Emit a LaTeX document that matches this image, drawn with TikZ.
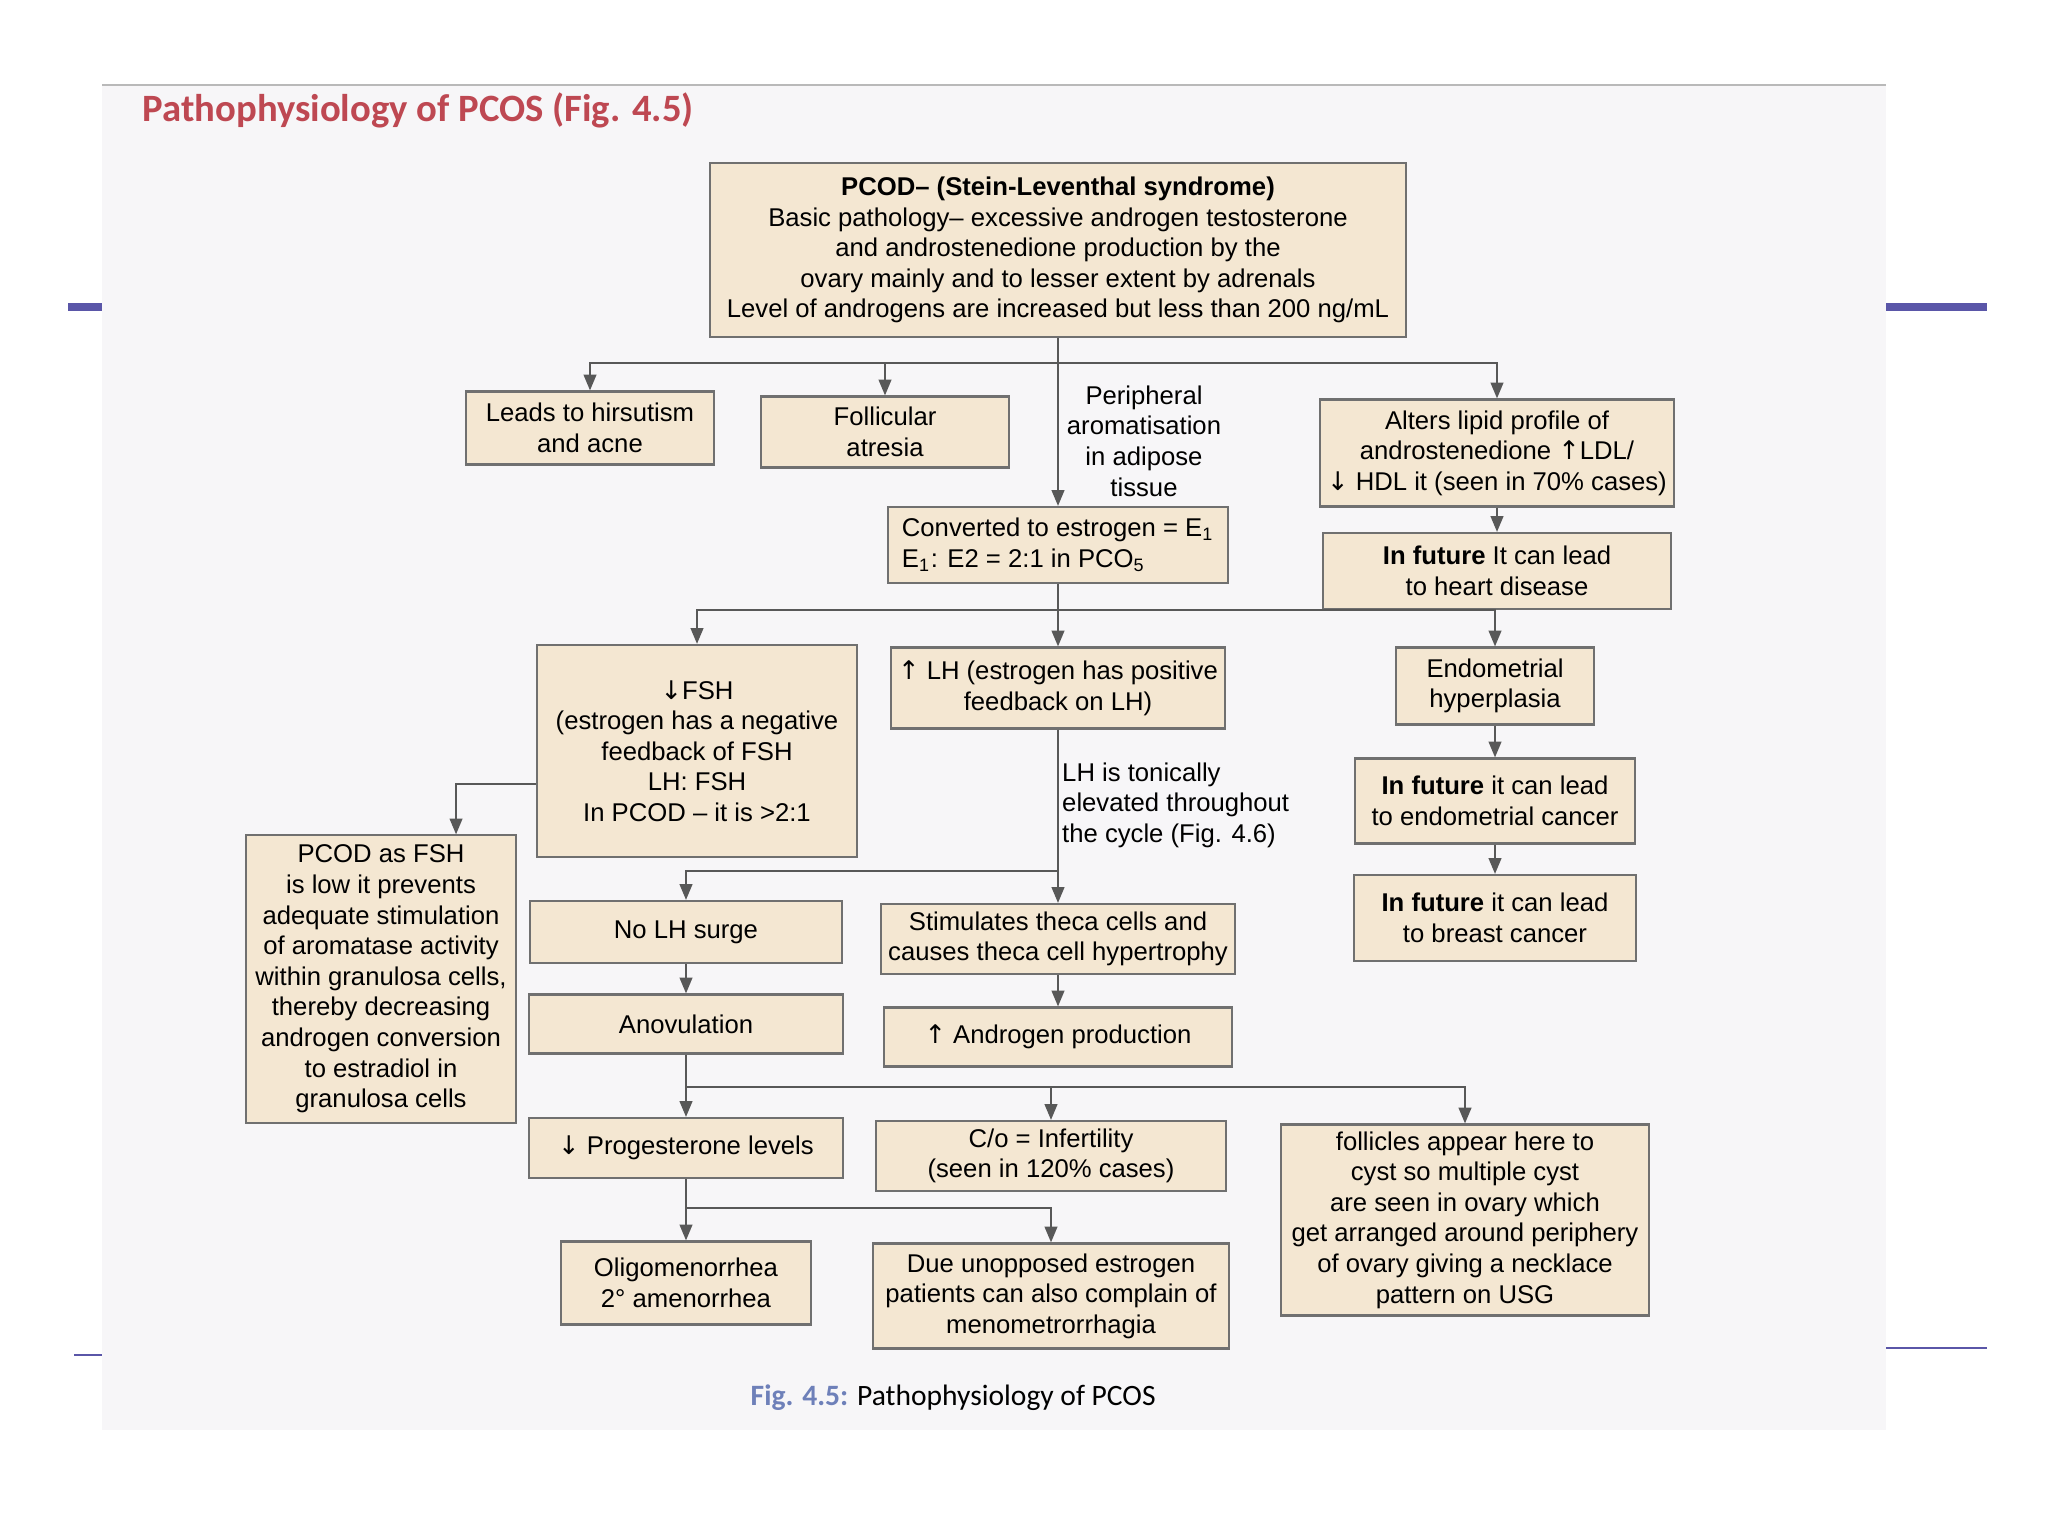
\documentclass[tikz,border=0pt]{standalone}
\usepackage{fontspec}
\setmainfont{Liberation Sans}
\newfontfamily\calfont{Carlito}
\newfontfamily\arrowfont{DejaVu Sans}
\newcommand{\uparr}{{\arrowfont ↑}}
\newcommand{\downarr}{{\arrowfont ↓}}
\usetikzlibrary{arrows.meta}
\definecolor{boxfill}{RGB}{244,231,210}
\definecolor{boxline}{RGB}{112,112,112}
\definecolor{linkgray}{RGB}{88,88,88}
\definecolor{paneltint}{RGB}{247,246,248}
\definecolor{titlered}{RGB}{190,72,82}
\definecolor{figblue}{RGB}{110,128,185}
\definecolor{slideblue}{RGB}{90,86,168}

\begin{document}
\begin{tikzpicture}[x=0.01cm, y=-0.01cm, font=\fontsize{7.3}{8.7}\selectfont,
  box/.style={draw=boxline, line width=0.6pt, fill=boxfill, align=center, inner sep=2pt},
  note/.style={align=center, inner sep=1pt},
  link/.style={draw=linkgray, line width=0.6pt, -{Triangle[length=4.5pt,width=3.6pt]}}]
\useasboundingbox (0,0) rectangle (2048,1536);

% slide background
\fill[paneltint] (102,85) rectangle (1886,1430);
\draw[gray!55, line width=0.6pt] (102,85) -- (1886,85);
\draw[slideblue, line width=2.3pt] (68,307) -- (102,307);
\draw[slideblue, line width=2.3pt] (1886,307) -- (1987,307);
\draw[slideblue, line width=0.7pt] (74,1355) -- (102,1355);
\draw[slideblue, line width=0.7pt] (1886,1348) -- (1987,1348);

\node[anchor=west, inner sep=0pt, text=titlered, font=\calfont\bfseries\fontsize{11}{13}\selectfont] (title) at (142,110) {Pathophysiology of PCOS (Fig. 4.5)};

% boxes
\node[box, minimum width=6.96cm, minimum height=1.74cm] (top) at (1058,250) {\textbf{PCOD– (Stein-Leventhal syndrome)}\\Basic pathology– excessive androgen testosterone\\and androstenedione production by the\\ovary mainly and to lesser extent by adrenals\\Level of androgens are increased but less than 200 ng/mL};
\node[box, minimum width=2.48cm, minimum height=0.73cm] (hirs) at (590,428) {Leads to hirsutism\\and acne};
\node[box, minimum width=2.47cm, minimum height=0.71cm] (foll) at (885,432) {Follicular\\atresia};
\node[note] (peri) at (1144,441) {Peripheral\\aromatisation\\in adipose\\tissue};
\node[box, minimum width=3.47cm, minimum height=1.07cm] (alters) at (1497,453) {Alters lipid profile of\\androstenedione \uparr LDL/\\\downarr\ HDL it (seen in 70\% cases)};
\node[box, minimum width=3.47cm, minimum height=0.76cm] (heart) at (1497,571) {\textbf{In future} It can lead\\to heart disease};
\node[box, minimum width=3.40cm, minimum height=0.76cm, align=left] (conv) at (1058,545) {Converted to estrogen = E\textsubscript{1}\\E\textsubscript{1}: E2 = 2:1 in PCO\textsubscript{5}};

\node[box, minimum width=3.20cm, minimum height=2.12cm] (fsh) at (697,751) {\downarr FSH\\(estrogen has a negative\\feedback of FSH\\LH: FSH\\In PCOD – it is >2:1};
\node[box, minimum width=3.31cm, minimum height=0.81cm] (lh) at (1058,688) {\uparr\ LH (estrogen has positive\\feedback on LH)};
\node[box, minimum width=1.98cm, minimum height=0.77cm] (endo) at (1495,686) {Endometrial\\hyperplasia};
\node[note, anchor=west, align=left] (toni) at (1058,805) {LH is tonically\\elevated throughout\\the cycle (Fig. 4.6)};
\node[box, minimum width=2.80cm, minimum height=0.85cm] (endoca) at (1495,801) {\textbf{In future} it can lead\\to endometrial cancer};
\node[box, minimum width=2.81cm, minimum height=0.86cm] (breast) at (1495,918) {\textbf{In future} it can lead\\to breast cancer};

\node[box, minimum width=2.70cm, minimum height=2.87cm] (pcodfsh) at (381,979) {PCOD as FSH\\is low it prevents\\adequate stimulation\\of aromatase activity\\within granulosa cells,\\thereby decreasing\\androgen conversion\\to estradiol in\\granulosa cells};
\node[box, minimum width=3.12cm, minimum height=0.62cm] (nolh) at (686,932) {No LH surge};
\node[box, minimum width=3.49cm, minimum height=0.70cm] (stim) at (1058,939) {Stimulates theca cells and\\causes theca cell hypertrophy};
\node[box, minimum width=3.13cm, minimum height=0.59cm] (anov) at (686,1024) {Anovulation};
\node[box, minimum width=3.48cm, minimum height=0.59cm] (andro) at (1058,1037) {\uparr\ Androgen production};

\node[box, minimum width=3.14cm, minimum height=0.60cm] (prog) at (686,1148) {\downarr\ Progesterone levels};
\node[box, minimum width=3.50cm, minimum height=0.70cm] (infert) at (1051,1156) {C/o = Infertility\\(seen in 120\% cases)};
\node[box, minimum width=3.68cm, minimum height=1.88cm] (foli) at (1465,1220) {follicles appear here to\\cyst so multiple cyst\\are seen in ovary which\\get arranged around periphery\\of ovary giving a necklace\\pattern on USG};
\node[box, minimum width=2.49cm, minimum height=0.83cm] (oligo) at (686,1283) {Oligomenorrhea\\2° amenorrhea};
\node[box, minimum width=3.56cm, minimum height=1.05cm] (unopp) at (1051,1296) {Due unopposed estrogen\\patients can also complain of\\menometrorrhagia};

\node[anchor=west, inner sep=0pt, font=\calfont\fontsize{8.4}{10}\selectfont] (caption) at (750,1398) {\textcolor{figblue}{\bfseries Fig. 4.5:} Pathophysiology of PCOS};

% junctions
\coordinate (j1) at (1058,363);
\coordinate (j2) at (1058,610);
\coordinate (j3) at (1058,871);
\coordinate (j4) at (686,1087);
\coordinate (j5) at (686,1208);

% connectors
\draw[link] (top.south) -- (conv.north);
\draw[link] (j1) -| (hirs.north);
\draw[link] (j1) -| (foll.north);
\draw[link] (j1) -| (alters.north);
\draw[link] (alters) -- (heart);
\draw[link] (conv.south) -- (lh.north);
\draw[link] (j2) -| (fsh.north);
\draw[link] (j2) -| (endo.north);
\draw[link] (endo) -- (endoca);
\draw[link] (endoca) -- (breast);
\draw[link] ([yshift=-0.33cm]fsh.west) -| ([xshift=0.75cm]pcodfsh.north);
\draw[link] (lh.south) -- (stim.north);
\draw[link] (j3) -| (nolh.north);
\draw[link] (nolh) -- (anov);
\draw[link] (stim) -- (andro);
\draw[link] (anov.south) -- (prog.north);
\draw[link] (j4) -| (infert.north);
\draw[link] (j4) -| (foli.north);
\draw[link] (prog.south) -- (oligo.north);
\draw[link] (j5) -| (unopp.north);
\end{tikzpicture}
\end{document}
